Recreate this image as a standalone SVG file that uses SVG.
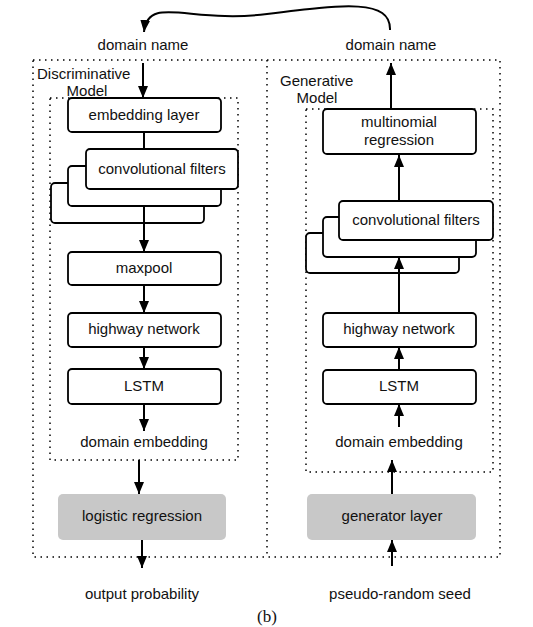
<svg xmlns="http://www.w3.org/2000/svg" width="533" height="627" viewBox="0 0 533 627">
<style>
text{font-family:"Liberation Sans",Arial,sans-serif;font-size:15px;fill:#111;text-anchor:middle}
.box{fill:#fff;stroke:#000;stroke-width:1.8}
.grey{fill:#c8c8c8;stroke:none}
.dot{fill:none;stroke:#000;stroke-width:1.5;stroke-dasharray:1.5 4.5}
.ln{fill:none;stroke:#000;stroke-width:2}
.arr{fill:none;stroke:#000;stroke-width:2;marker-end:url(#ah)}
.cap{font-family:"Liberation Serif","Times New Roman",serif;font-size:17px}
</style>
<defs>
<marker id="ah" markerUnits="userSpaceOnUse" markerWidth="12" markerHeight="12" viewBox="0 0 12 12" refX="12" refY="6" orient="auto">
<path d="M0,1 L12,6 L0,11 Z" fill="#000"/>
</marker>
</defs>
<rect width="533" height="627" fill="#fff"/>

<g id="frames">
<rect class="dot" x="33" y="60" width="467" height="497"/>
<line class="dot" x1="267" y1="60" x2="267" y2="557"/>
<rect class="dot" x="50" y="98" width="188" height="362"/>
<rect class="dot" x="306" y="109" width="187" height="363"/>
</g>

<g id="labels">
<text x="143" y="50">domain name</text>
<text x="391" y="50">domain name</text>
<text x="37" y="79" style="text-anchor:start">Discriminative</text>
<text x="87" y="96">Model</text>
<text x="280" y="86" style="text-anchor:start">Generative</text>
<text x="317" y="103">Model</text>
<text x="142" y="599">output probability</text>
<text x="400" y="599">pseudo-random seed</text>
<text class="cap" x="267" y="622">(b)</text>
</g>

<g id="connectors">
<path class="arr" d="M390,30 C391,-1 345,4 267,14 C190,24 148,-6 144,32"/>
<line class="arr" x1="143" y1="63" x2="143" y2="98"/>
<line class="ln" x1="144" y1="132" x2="144" y2="150"/>
<line class="arr" x1="391" y1="110" x2="391" y2="63"/>
<line class="arr" x1="399" y1="201" x2="399" y2="155"/>
<line class="arr" x1="144" y1="285" x2="144" y2="313"/>
<line class="arr" x1="144" y1="347" x2="144" y2="369"/>
<line class="arr" x1="144" y1="404" x2="144" y2="431"/>
<line class="arr" x1="139" y1="460" x2="139" y2="494"/>
<line class="arr" x1="142" y1="540" x2="142" y2="568"/>
<line class="arr" x1="399" y1="370" x2="399" y2="347"/>
<line class="arr" x1="399" y1="427" x2="399" y2="404"/>
<line class="arr" x1="392" y1="494" x2="392" y2="460"/>
<line class="arr" x1="392" y1="566" x2="392" y2="540"/>
</g>

<g id="embedding-layer">
<rect class="box" x="68" y="98" width="153" height="34" rx="4"/>
<text x="144" y="120">embedding layer</text>
</g>

<g id="conv-left">
<rect class="box" x="51" y="183" width="153" height="40" rx="4"/>
<rect class="box" x="68" y="166" width="153" height="40" rx="4"/>
<rect class="box" x="86" y="149" width="152" height="40" rx="4"/>
<text x="162" y="174">convolutional filters</text>
</g>
<line class="arr" x1="144" y1="206" x2="144" y2="252"/>

<g id="maxpool">
<rect class="box" x="68" y="252" width="153" height="33" rx="4"/>
<text x="144" y="273">maxpool</text>
</g>

<g id="highway-left">
<rect class="box" x="68" y="313" width="153" height="34" rx="4"/>
<text x="144" y="334">highway network</text>
</g>

<g id="lstm-left">
<rect class="box" x="68" y="369" width="153" height="35" rx="4"/>
<text x="144" y="391">LSTM</text>
</g>

<g id="domain-embedding-left">
<text x="144" y="447">domain embedding</text>
</g>

<g id="logistic-regression">
<rect class="grey" x="58" y="494" width="168" height="46" rx="5"/>
<text x="142" y="521">logistic regression</text>
</g>

<g id="multinomial-regression">
<rect class="box" x="323" y="109" width="153" height="45" rx="4"/>
<text x="399" y="127">multinomial</text>
<text x="399" y="145">regression</text>
</g>

<g id="conv-right">
<rect class="box" x="306" y="233" width="153" height="40" rx="4"/>
<rect class="box" x="323" y="217" width="153" height="40" rx="4"/>
<rect class="box" x="339" y="201" width="154" height="39" rx="4"/>
<text x="416" y="225">convolutional filters</text>
</g>
<line class="arr" x1="399" y1="313" x2="399" y2="257"/>

<g id="highway-right">
<rect class="box" x="323" y="313" width="153" height="34" rx="4"/>
<text x="399" y="334">highway network</text>
</g>

<g id="lstm-right">
<rect class="box" x="323" y="370" width="153" height="34" rx="4"/>
<text x="399" y="391">LSTM</text>
</g>

<g id="domain-embedding-right">
<text x="399" y="447">domain embedding</text>
</g>

<g id="generator-layer">
<rect class="grey" x="307" y="494" width="169" height="46" rx="5"/>
<text x="392" y="521">generator layer</text>
</g>
</svg>
